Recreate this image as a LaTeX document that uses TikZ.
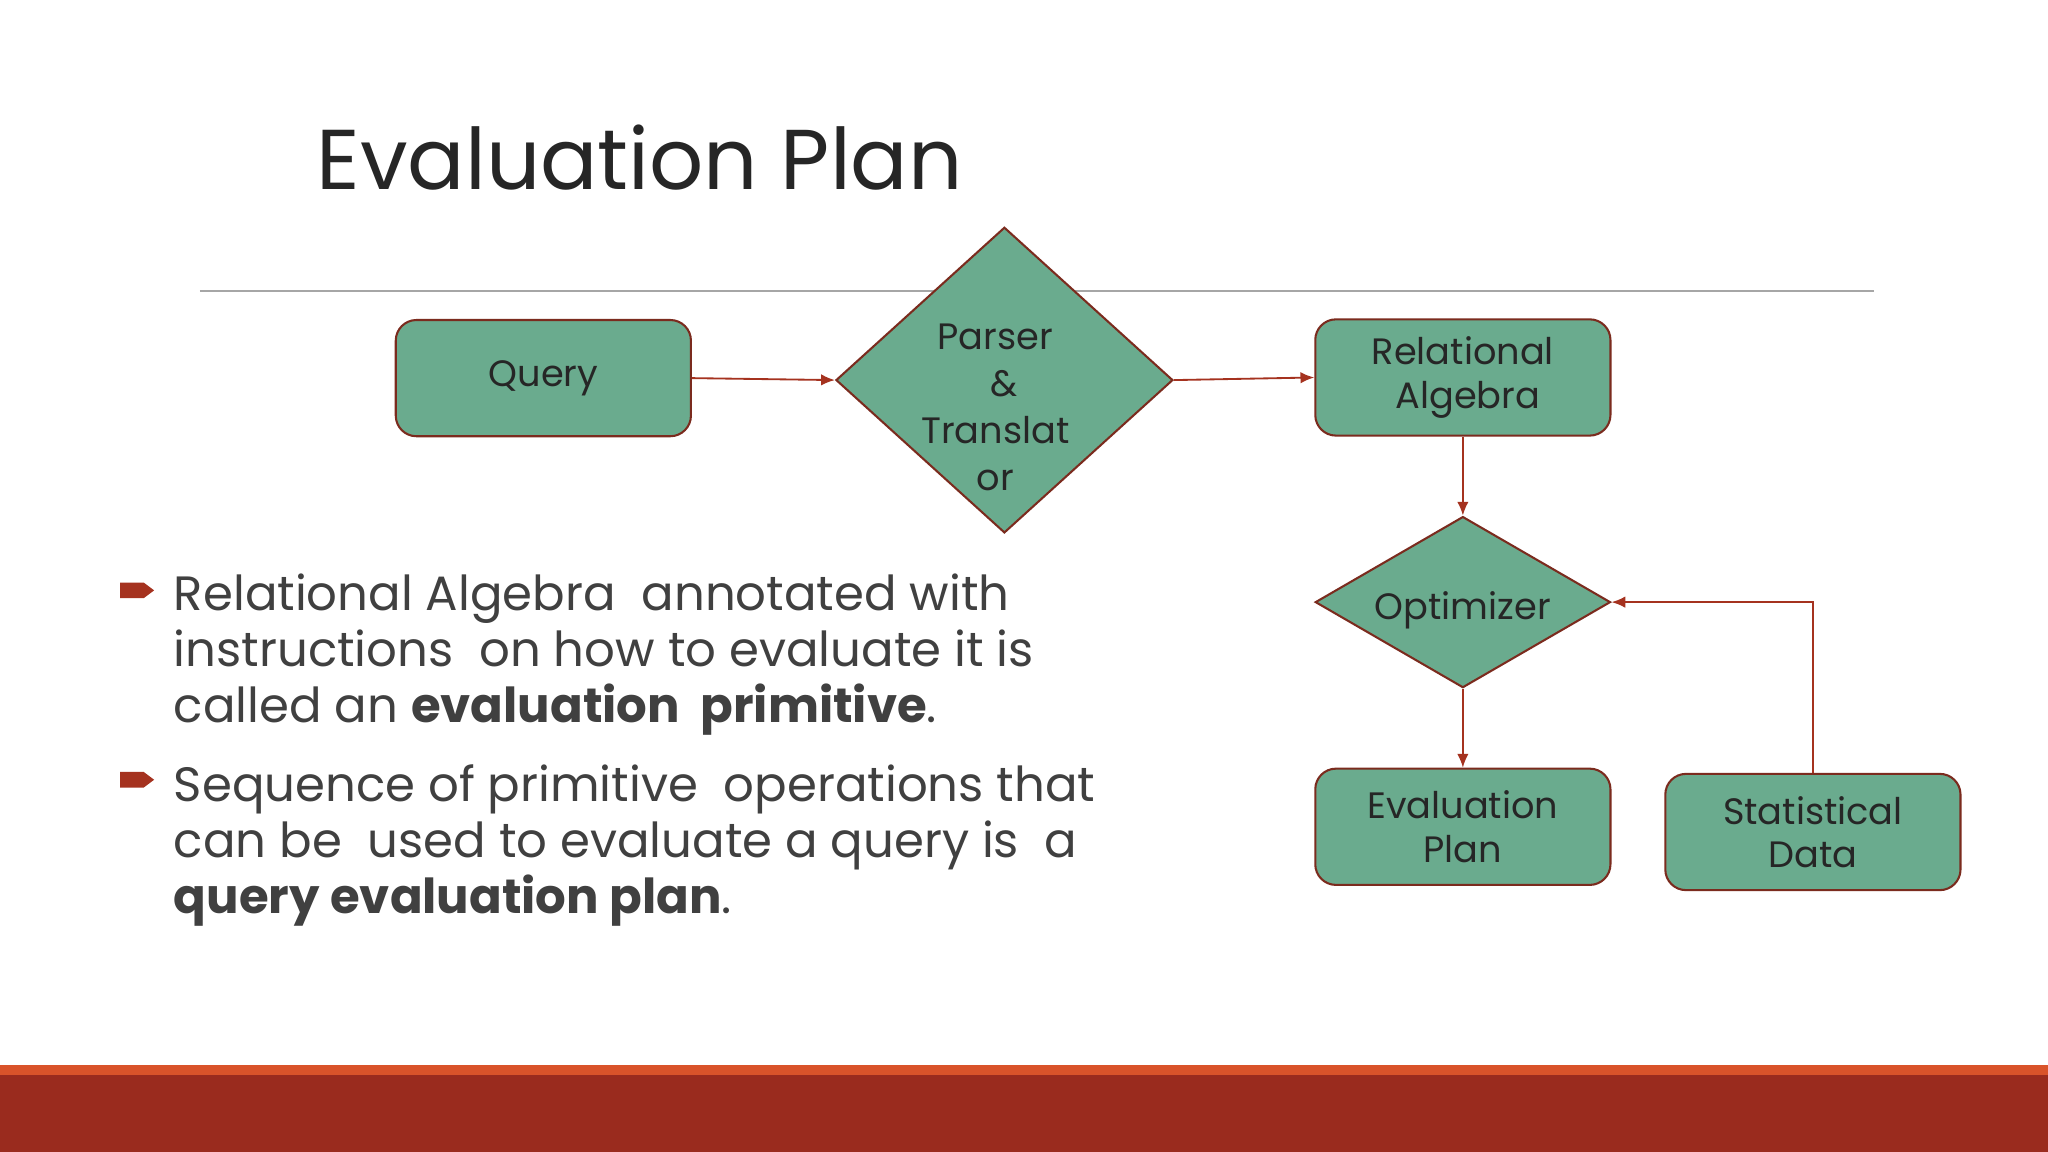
\documentclass[tikz,border=0pt]{standalone}
\usepackage{fontspec}
\setmainfont{Poppins}
\usetikzlibrary{shapes.geometric,arrows.meta}
\definecolor{gfill}{HTML}{6AAB8E}
\definecolor{bord}{HTML}{7B2B1E}
\definecolor{arr}{HTML}{A5321F}
\definecolor{band}{HTML}{9A2B1E}
\definecolor{bandtop}{HTML}{D9532A}
\definecolor{txt}{HTML}{404040}
\begin{document}
\begin{tikzpicture}[x=0.02cm,y=-0.02cm,
 boxn/.style={draw=bord,fill=gfill,rounded corners=9pt,line width=0.9pt,minimum width=226*0.02cm,minimum height=89*0.02cm,align=center,font=\fontsize{16}{19}\selectfont,text=black!85},
 dia/.style={draw=bord,fill=gfill,diamond,line width=0.9pt,inner sep=0pt,align=center,font=\fontsize{16}{19}\selectfont,text=black!85},
 conn/.style={draw=arr,line width=0.8pt,-{Latex[length=6pt,width=5pt]}},
 btxt/.style={anchor=north west,align=left,text=txt,font=\fontsize{21}{24.5}\selectfont}]
\useasboundingbox (0,0) rectangle (1568,882);
\fill[white] (0,0) rectangle (1568,882);
\fill[bandtop] (0,815) rectangle (1568,823);
\fill[band] (0,823) rectangle (1568,882);
\node[anchor=base west,inner sep=0pt,text=black!85,font=\fontsize{37}{44}\selectfont] (title) at (242,145) {Evaluation Plan};
\draw[gray!70,line width=0.8pt] (153,223) -- (1435,223);
\node[boxn] (q) at (416,289.5) {Query};
\node[dia,minimum width=258*0.02cm,minimum height=234*0.02cm] (p) at (769,291) {};
\node[align=center,font=\fontsize{16}{20.5}\selectfont,text=black!85] (pt) at (762,312) {Parser\\\,\,\,\&\\Translat\\or};
\node[boxn] (ra) at (1120,289) {Relational\\\ Algebra};
\node[dia,minimum width=226*0.02cm,minimum height=131*0.02cm] (o) at (1120,461) {};
\node[font=\fontsize{16}{19}\selectfont,text=black!85] (ot) at (1120,467) {Optimizer};
\node[boxn] (ep) at (1120,633) {Evaluation\\Plan};
\node[boxn] (sd) at (1388,637) {Statistical\\Data};
\draw[conn] (q.east) -- (p.west);
\draw[conn] (p.east) -- (ra.west);
\draw[conn] (ra.south) -- (o.north);
\draw[conn] (o.south) -- (ep.north);
\draw[conn] (sd.north) |- (o.east);
\foreach \yy/\nm in {452/b1,597/b2}{
 \fill[arr] (92,\yy-6) -- (110,\yy-6) -- (118,\yy) -- (110,\yy+6) -- (92,\yy+6) -- cycle;}
\node[btxt] (t1) at (127,433) {Relational Algebra\ \ annotated with\\instructions\ \ on how to evaluate it is\\called an \textbf{evaluation\ \ primitive}.};
\node[btxt] (t2) at (127,579) {Sequence of primitive\ \ operations that\\can be\ \ used to evaluate a query is\ \ a\\\textbf{query evaluation plan}.};
\end{tikzpicture}
\end{document}
